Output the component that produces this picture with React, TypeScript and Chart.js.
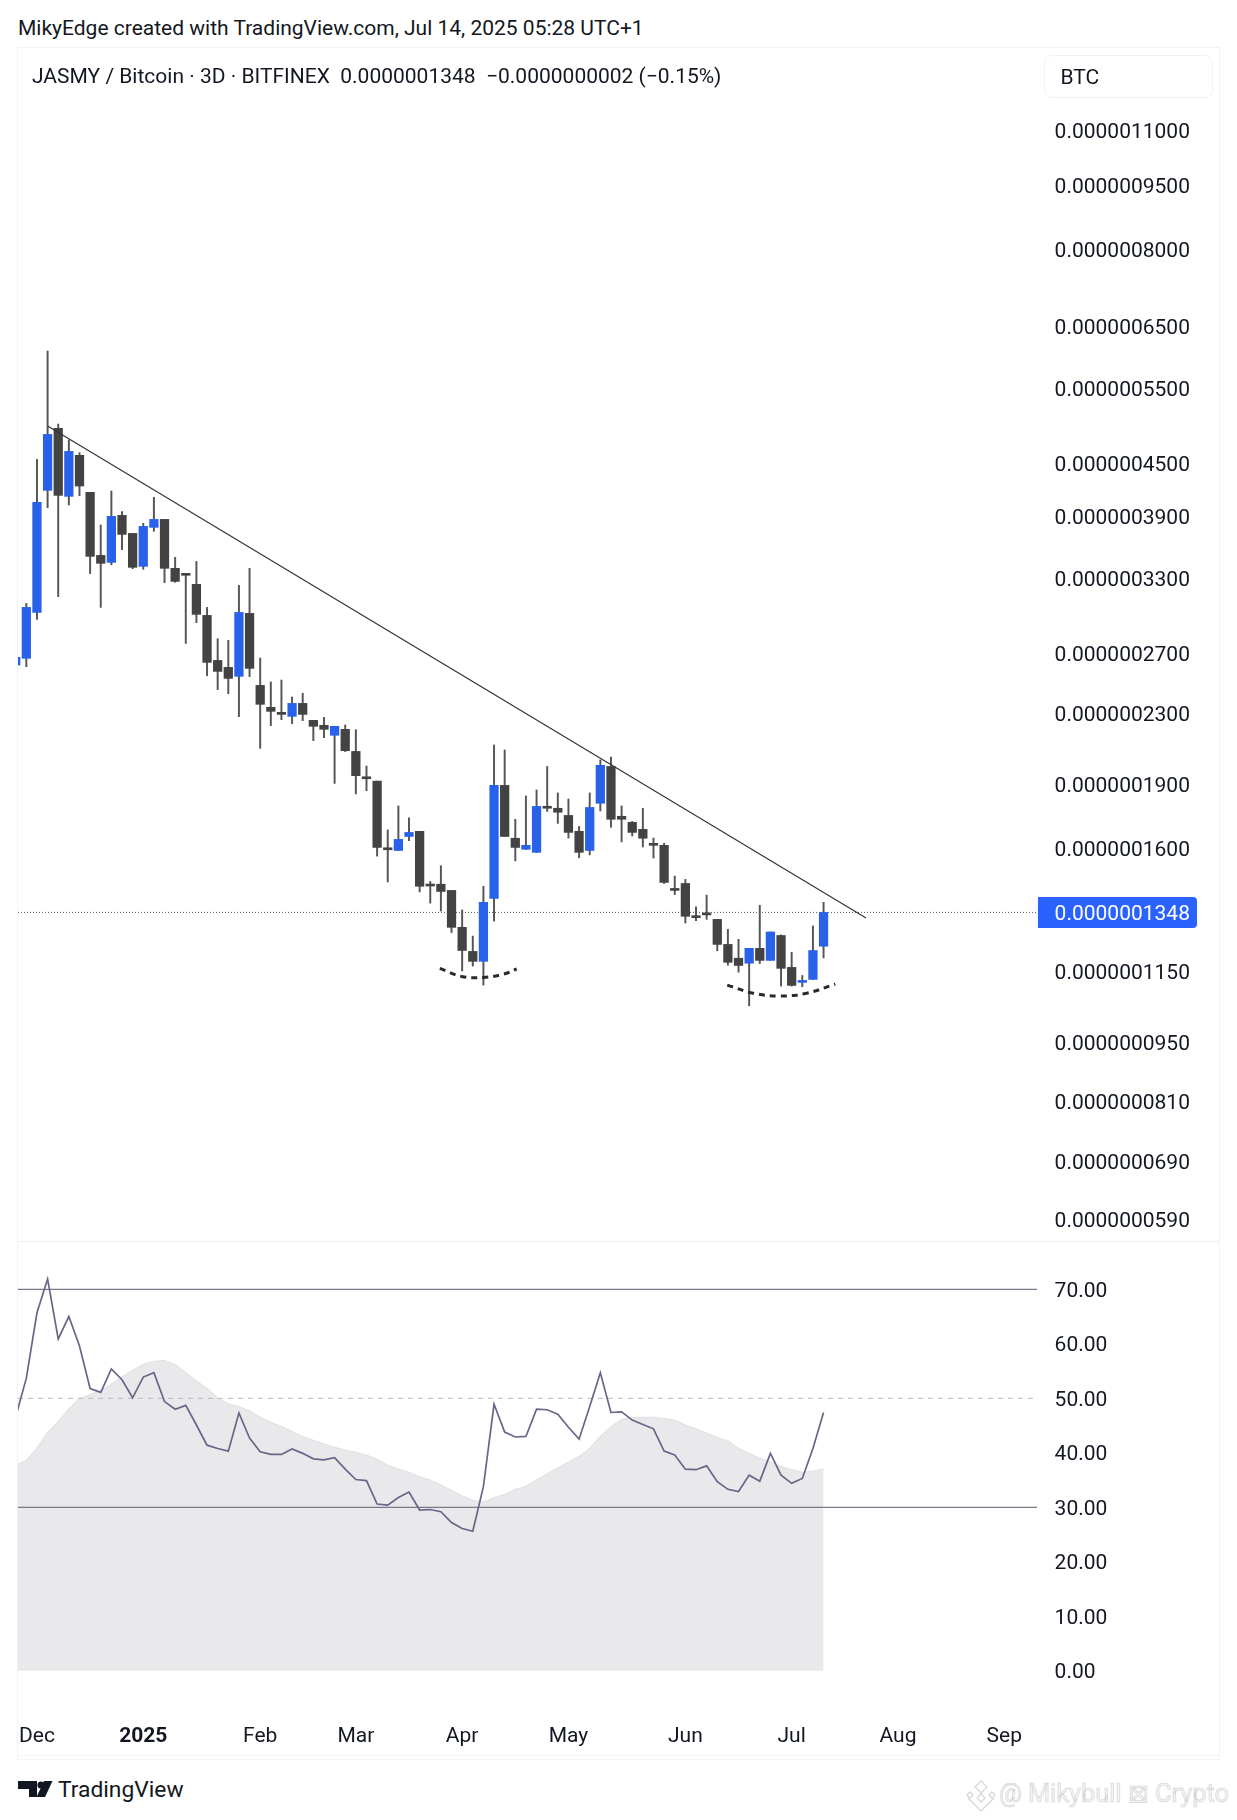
import React, { useEffect, useRef } from "react";
import { Chart, registerables } from "chart.js";
Chart.register(...registerables);

// Prices are in units of 0.0000000001 BTC
const bodyTops = [2674,3058,4054,4866,4946,4649,4600,4165,3516,3905,3915,3730,3801,3873,3873,3396,3339,3253,2993,2652,2603,3017,3009,2480,2338,2307,2363,2363,2258,2228,2222,2204,2077,1934,1918,1598,1640,1671,1676,1450,1454,1430,1295,1214,1385,1896,1896,1645,1614,1792,1792,1783,1749,1676,1787,2001,1995,1745,1717,1685,1617,1614,1433,1457,1331,1341,1323,1237,1192,1224,1224,1279,1267,1163,1123,1217,1348];
const bodyBottoms = [2619,2667,3017,4187,4131,4120,4236,3507,3442,3451,3720,3405,3414,3791,3396,3279,3333,3001,2638,2575,2527,2541,2596,2357,2313,2294,2282,2294,2222,2204,2169,2081,1946,1930,1605,1595,1592,1653,1446,1447,1426,1295,1217,1182,1182,1400,1653,1605,1597,1584,1783,1764,1671,1584,1592,1807,1731,1731,1671,1645,1614,1461,1430,1334,1329,1339,1237,1179,1169,1176,1185,1185,1160,1108,1117,1126,1231];
const highs = [2691,3091,4550,6087,5003,4793,4633,4165,3815,4180,3954,3730,3832,4109,3873,3498,3342,3460,3058,2811,2799,3244,3396,2669,2503,2516,2404,2428,2258,2276,2222,2230,2202,1997,1918,1682,1794,1738,1676,1465,1528,1430,1357,1265,1446,2113,2085,1731,1843,1873,1995,1858,1828,1698,1858,2030,2046,1794,1721,1783,1646,1623,1486,1473,1368,1412,1323,1288,1254,1224,1374,1279,1269,1211,1138,1300,1385];
const lows = [2608,2608,2961,3997,3147,4025,4127,3348,3058,3429,3570,3393,3387,3751,3268,3271,2776,2935,2545,2452,2425,2280,2539,2094,2226,2262,2238,2256,2138,2155,1906,2076,1853,1869,1568,1463,1592,1634,1424,1382,1353,1277,1152,1167,1109,1317,1653,1548,1597,1583,1768,1712,1646,1561,1573,1770,1694,1629,1655,1607,1560,1457,1414,1310,1318,1323,1216,1170,1148,1049,1175,1185,1106,1106,1104,1126,1193];
const risingIndexes = [0,1,2,3,5,9,12,13,21,26,30,36,37,44,45,48,49,54,55,69,71,74,75,76];
const rsi = [46.6,53.7,65.7,71.9,60.9,65.0,59.6,51.8,51.1,55.4,53.4,50.1,53.9,54.7,49.4,48.0,48.7,45.1,41.4,40.8,40.3,47.3,42.7,40.2,39.7,39.7,40.7,39.9,38.9,38.7,39.1,37.0,35.1,34.9,30.6,30.4,31.8,32.8,29.5,29.6,29.2,27.2,26.1,25.6,33.8,48.9,43.8,42.9,43.0,48.0,47.9,47.1,44.7,42.5,48.5,54.7,47.4,47.5,46.0,45.2,44.4,40.3,39.6,37.0,36.9,37.6,34.7,33.3,32.9,35.9,34.8,39.9,35.9,34.4,35.3,40.8,47.4];
const rsiMa = [37.7,38.6,40.8,43.7,45.7,48.0,49.9,50.7,51.4,52.6,53.9,55.1,56.2,56.8,56.9,56.2,54.7,53.2,51.8,50.0,49.0,48.5,47.7,46.5,45.6,44.8,43.9,43.0,42.3,41.6,41.0,40.5,40.1,39.6,38.8,37.7,37.0,36.4,35.6,35.0,34.1,33.1,32.1,31.3,30.9,31.8,32.4,33.3,33.8,35.0,36.1,37.2,38.3,39.3,40.8,43.0,44.8,46.1,46.5,46.5,46.5,46.3,46.0,45.1,44.4,43.6,42.8,42.2,40.8,39.9,39.0,38.3,37.5,36.9,36.4,36.6,37.0];
const lastPrice = 1348;
const priceTicks = [11000,9500,8000,6500,5500,4500,3900,3300,2700,2300,1900,1600,1348,1150,950,810,690,590];
const rsiTicks = [70,60,50,40,30,20,10,0];
const monthPositions = [2,12,23,32,42,52,63,73,83,93];
const monthLabels = ["Dec","2025","Feb","Mar","Apr","May","Jun","Jul","Aug","Sep"];
const trendX = [3,80];
const trendY = [4977,1328];
const arc1X = [39.9,41.95,43.98,45.87,47.13];
const arc1Y = [1160,1135,1132,1142,1158];
const arc2X = [66.94,69.39,71.9,74.4,77.1];
const arc2Y = [1109,1085,1077,1085,1112];
const bandUpper = 70, bandMiddle = 50, bandLower = 30;

const X_MIN = 0.216, X_MAX = 96.08;
const FONT = "Roboto";
const FS = 21;
const AXIS_W = 181;
const TEXT = "#131722";
const BLUE = "#2962ea";
const DARK = "#434343";

const zip = (xs: number[], ys: number[]) => xs.map((x, i) => ({ x, y: ys[i] }));
const hline = (v: number) => [{ x: X_MIN, y: v }, { x: X_MAX, y: v }];
const priceLabel = (v: number) => (v / 1e10).toFixed(10);
const noPadding = (s: any) => { s.paddingLeft = 0; s.paddingRight = 0; s.paddingTop = 0; s.paddingBottom = 0; };

const badgePlugin = {
  id: "badge",
  beforeDraw(chart: any) {
    const { ctx } = chart;
    const y = chart.scales.y.getPixelForValue(lastPrice);
    ctx.save();
    ctx.fillStyle = "#2962ff";
    ctx.beginPath();
    ctx.roundRect(1020, y - 15.5, 159, 31, [0, 4, 4, 0]);
    ctx.fill();
    ctx.restore();
  },
};

function PriceChart() {
  const ref = useRef<HTMLCanvasElement>(null);
  useEffect(() => {
    const lineBase = { type: "line", pointRadius: 0, fill: false };
    const chart = new Chart(ref.current!, {
      type: "bar",
      data: {
        datasets: [
          { ...lineBase, label: "Trend", data: zip(trendX, trendY), borderColor: "#333", borderWidth: 1.2 },
          { ...lineBase, label: "Arc 1", data: zip(arc1X, arc1Y), borderColor: "#2a2a2a", borderWidth: 3, borderDash: [6, 5], tension: 0.4 },
          { ...lineBase, label: "Arc 2", data: zip(arc2X, arc2Y), borderColor: "#2a2a2a", borderWidth: 3, borderDash: [6, 5], tension: 0.4 },
          {
            label: "Body", grouped: false, barThickness: 8.6, minBarLength: 2, borderWidth: 0,
            data: bodyTops.map((t, i) => ({ x: i, y: [bodyBottoms[i], t] })),
            backgroundColor: bodyTops.map((_, i) => (risingIndexes.includes(i) ? BLUE : DARK)),
          },
          {
            label: "Wick", grouped: false, barThickness: 1.3, borderWidth: 0,
            data: highs.map((h, i) => ({ x: i, y: [lows[i], h] })),
            backgroundColor: "#555555",
          },
          { ...lineBase, label: "Last", data: hline(lastPrice), borderColor: "#555", borderWidth: 1, borderDash: [1, 2] },
        ] as any,
      },
      options: {
        animation: false, responsive: false, devicePixelRatio: 1,
        layout: { padding: 0, autoPadding: false },
        plugins: { legend: { display: false }, tooltip: { enabled: false } },
        scales: {
          x: { type: "linear", min: X_MIN, max: X_MAX, offset: false, display: false, grid: { display: false } },
          y: {
            type: "logarithmic", position: "right", min: 557.8, max: 13734, bounds: "data",
            grid: { display: false }, border: { display: false },
            afterFit(s: any) { s.width = AXIS_W; noPadding(s); },
            afterBuildTicks(s: any) { s.ticks = priceTicks.map((value) => ({ value })); },
            ticks: {
              autoSkip: false, padding: 9.6, labelOffset: 2, font: { family: FONT, size: FS },
              color: (c: any) => (c.tick?.value === lastPrice ? "#ffffff" : TEXT),
              callback: (v: any) => priceLabel(Number(v)),
            },
          },
        },
      } as any,
      plugins: [badgePlugin],
    } as any);
    return () => chart.destroy();
  }, []);
  return <canvas ref={ref} width={1200} height={1193} style={{ position: "absolute", left: 18, top: 48 }} />;
}

function RsiChart() {
  const ref = useRef<HTMLCanvasElement>(null);
  useEffect(() => {
    const base = { pointRadius: 0, fill: false };
    const xs = rsi.map((_, i) => i);
    const chart = new Chart(ref.current!, {
      type: "line",
      data: {
        datasets: [
          { ...base, label: "RSI", data: zip(xs, rsi), borderColor: "#6c6488", borderWidth: 1.7 },
          { ...base, label: "Upper", data: hline(bandUpper), borderColor: "#787b86", borderWidth: 1.2 },
          { ...base, label: "Middle", data: hline(bandMiddle), borderColor: "#b8b9bf", borderWidth: 1, borderDash: [5, 5] },
          { ...base, label: "Lower", data: hline(bandLower), borderColor: "#787b86", borderWidth: 1.2 },
          { pointRadius: 0, label: "RSI MA", data: zip(xs, rsiMa), borderColor: "#e2e2e5", borderWidth: 1.2, backgroundColor: "#e9e9eb", fill: { value: 0 } },
        ] as any,
      },
      options: {
        animation: false, responsive: false, devicePixelRatio: 1,
        layout: { padding: 0, autoPadding: false },
        plugins: { legend: { display: false }, tooltip: { enabled: false } },
        scales: {
          x: {
            type: "linear", position: "bottom", min: X_MIN, max: X_MAX,
            grid: { display: false }, border: { display: false },
            afterFit(s: any) { s.height = 47; noPadding(s); },
            afterBuildTicks(s: any) { s.ticks = monthPositions.map((value) => ({ value })); },
            ticks: {
              autoSkip: false, maxRotation: 0, padding: 6, color: TEXT,
              font: (c: any) => ({ family: FONT, size: FS, weight: c.tick?.value === 12 ? "bold" : "normal" }),
              callback: (v: any) => monthLabels[monthPositions.indexOf(Number(v))],
            },
          },
          y: {
            type: "linear", position: "right", min: -7.19, max: 78.68,
            grid: { display: false }, border: { display: false },
            afterFit(s: any) { s.width = AXIS_W; noPadding(s); },
            afterBuildTicks(s: any) { s.ticks = rsiTicks.map((value) => ({ value })); },
            ticks: {
              autoSkip: false, padding: 9.6, labelOffset: 2, color: TEXT, font: { family: FONT, size: FS },
              callback: (v: any) => Number(v).toFixed(2),
            },
          },
        },
      } as any,
    } as any);
    return () => chart.destroy();
  }, []);
  return <canvas ref={ref} width={1200} height={515} style={{ position: "absolute", left: 18, top: 1242 }} />;
}

const text = (left: number, cy: number, size: number, extra: any = {}) => ({
  position: "absolute", left, top: cy - 20, height: 40, lineHeight: "40px", fontSize: size, fontFamily: FONT,
  color: TEXT, whiteSpace: "pre", ...extra,
});

export default function App() {
  return (
    <div style={{ position: "absolute", left: 0, top: 0, width: 1237, height: 1820, background: "#fff", overflow: "hidden" }}>
      <div style={text(18, 28, 21) as any}>MikyEdge created with TradingView.com, Jul 14, 2025 05:28 UTC+1</div>
      <div style={{ position: "absolute", left: 17, top: 47, width: 1203, height: 1713, border: "1.5px solid #f2f3f6", boxSizing: "border-box" }} />
      <PriceChart />
      <RsiChart />
      <div style={{ position: "absolute", left: 18, top: 1240.5, width: 1201, height: 1.5, background: "#eeeff2" }} />
      <div style={{ position: "absolute", left: 18, top: 1755, width: 1201, height: 1, background: "#f4f5f7" }} />
      <div style={text(32, 76, FS) as any}>{"JASMY / Bitcoin · 3D · BITFINEX  0.0000001348  −0.0000000002 (−0.15%)"}</div>
      <div style={{ position: "absolute", left: 1044, top: 55, width: 169, height: 43, boxSizing: "border-box", border: "1px solid #f0f1f4", borderRadius: 8, background: "#fff" }} />
      <div style={text(1060.5, 77, FS) as any}>BTC</div>
      <svg style={{ position: "absolute", left: 18, top: 1781 }} width={35} height={17} viewBox="0 0 35 17">
        <path d="M0 0H19V16H11V8H0Z" fill="#131722" />
        <circle cx="23" cy="4" r="3.6" fill="#131722" />
        <path d="M26 0H34.5L27 16H18.5Z" fill="#131722" />
      </svg>
      <div style={text(58, 1789.5, 22.8) as any}>TradingView</div>
      <svg style={{ position: "absolute", left: 966, top: 1780 }} width={30} height={32} viewBox="0 0 30 32">
        <g fill="none" stroke="#d8d8d8" strokeWidth="1.4">
          <path d="M15 1L21 7L15 13L9 7Z" /><path d="M15 14L19 18L15 22L11 18Z" /><path d="M15 31L24 22L28 18" /><path d="M15 31L6 22L2 18" /><path d="M4 12L7 15L4 18L1 15Z" /><path d="M26 12L29 15L26 18L23 15Z" />
        </g>
      </svg>
      <div style={text(999, 1794, 25.3, { color: "#f7f7f7", fontFamily: "Roboto", WebkitTextStroke: "0.6px #cfcfcf" }) as any}>{"@ Mikybull ⊠ Crypto"}</div>
    </div>
  );
}
